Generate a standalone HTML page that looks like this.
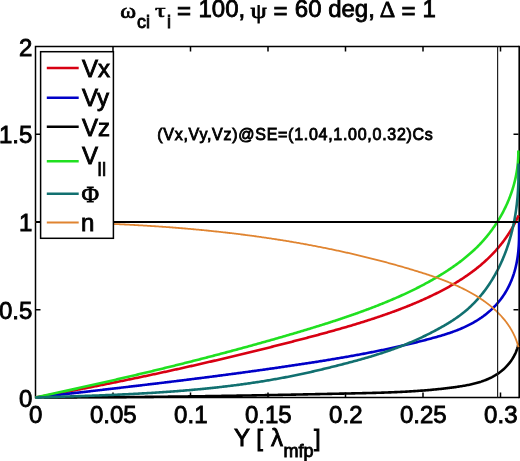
<!DOCTYPE html>
<html><head><meta charset="utf-8"><title>plot</title><style>
html,body{margin:0;padding:0;background:#fff;width:520px;height:461px;overflow:hidden;}
svg{display:block;}
text{font-family:"Liberation Sans",Arial,Helvetica,sans-serif;font-size:24px;fill:#000;stroke:#000;stroke-width:0.85px;}
.g{font-family:"Liberation Serif","DejaVu Serif",serif;}
.gs{font-family:"Liberation Sans","DejaVu Sans",sans-serif;}
.sub{font-size:18px;}
.ann{font-size:16px;letter-spacing:0.72px;}
</style></head><body>
<svg width="520" height="461" viewBox="0 0 520 461">
<rect x="0" y="0" width="520" height="461" fill="#fff"/>
<g stroke="#000" stroke-width="1.5" fill="none">
<path d="M519,397.5H35.5V46.5H519"/><path d="M519.2,45.75V398.25" stroke-width="1.6"/>
<path d="M113.0,397.5V392.5M113.0,46.5V51.5"/>
<path d="M190.5,397.5V392.5M190.5,46.5V51.5"/>
<path d="M268.0,397.5V392.5M268.0,46.5V51.5"/>
<path d="M345.5,397.5V392.5M345.5,46.5V51.5"/>
<path d="M423.0,397.5V392.5M423.0,46.5V51.5"/>
<path d="M500.5,397.5V392.5M500.5,46.5V51.5"/>
<path d="M35.5,309.75H40.5M518.5,309.75H513.5"/>
<path d="M35.5,222.00H40.5M518.5,222.00H513.5"/>
<path d="M35.5,134.25H40.5M518.5,134.25H513.5"/>
</g>
<g fill="none" stroke-linejoin="round" stroke-linecap="butt">
<path d="M35.50,397.50 36.55,397.31 37.59,397.13 38.64,396.94 39.69,396.75 40.73,396.56 41.78,396.37 42.83,396.18 43.87,395.99 44.92,395.81 45.96,395.62 47.01,395.43 48.06,395.23 49.10,395.04 50.15,394.85 51.19,394.66 52.24,394.47 53.29,394.28 54.33,394.08 55.38,393.89 56.42,393.70 57.47,393.51 58.51,393.31 59.56,393.12 60.61,392.92 61.65,392.73 62.70,392.53 63.74,392.34 64.79,392.14 65.83,391.95 66.88,391.75 67.92,391.55 68.97,391.36 70.01,391.16 71.06,390.96 72.10,390.76 73.15,390.57 74.19,390.37 75.24,390.17 76.28,389.97 77.33,389.77 78.37,389.57 79.42,389.37 80.46,389.17 81.51,388.97 82.55,388.77 83.59,388.57 84.64,388.36 85.68,388.16 86.73,387.96 87.77,387.76 88.82,387.55 89.86,387.35 90.90,387.15 91.95,386.94 92.99,386.74 94.04,386.53 95.08,386.33 96.12,386.12 97.17,385.92 98.21,385.71 99.25,385.51 100.30,385.30 101.34,385.09 102.39,384.89 103.43,384.68 104.47,384.47 105.52,384.26 106.56,384.05 107.60,383.84 108.65,383.64 109.69,383.43 110.73,383.22 111.77,383.01 112.82,382.80 113.86,382.59 114.90,382.37 115.95,382.16 116.99,381.95 118.03,381.74 119.07,381.53 120.12,381.32 121.16,381.10 122.20,380.89 123.24,380.68 124.29,380.46 125.33,380.25 126.37,380.03 127.41,379.82 128.45,379.60 129.50,379.39 130.54,379.17 131.58,378.96 132.62,378.74 133.66,378.52 134.71,378.31 135.75,378.09 136.79,377.87 137.83,377.65 138.87,377.43 139.91,377.22 140.95,377.00 142.00,376.78 143.04,376.56 144.08,376.34 145.12,376.12 146.16,375.90 147.20,375.68 148.24,375.46 149.28,375.23 150.32,375.01 151.36,374.79 152.40,374.57 153.44,374.34 154.49,374.12 155.53,373.90 156.57,373.67 157.61,373.45 158.65,373.23 159.69,373.00 160.73,372.78 161.77,372.55 162.81,372.33 163.85,372.10 164.89,371.87 165.93,371.65 166.97,371.42 168.01,371.19 169.04,370.97 170.08,370.74 171.12,370.51 172.16,370.28 173.20,370.05 174.24,369.82 175.28,369.59 176.32,369.36 177.36,369.13 178.40,368.90 179.44,368.67 180.48,368.44 181.51,368.21 182.55,367.98 183.59,367.75 184.63,367.52 185.67,367.28 186.71,367.05 187.74,366.82 188.78,366.58 189.82,366.35 190.86,366.12 191.90,365.88 192.94,365.65 193.97,365.41 195.01,365.18 196.05,364.94 197.09,364.70 198.12,364.47 199.16,364.23 200.20,363.99 201.24,363.76 202.27,363.52 203.31,363.28 204.35,363.04 205.39,362.80 206.42,362.56 207.46,362.33 208.50,362.09 209.53,361.85 210.57,361.61 211.61,361.37 212.64,361.12 213.68,360.88 214.72,360.64 215.75,360.40 216.79,360.16 217.82,359.92 218.86,359.67 219.90,359.43 220.93,359.19 221.97,358.94 223.00,358.70 224.04,358.46 225.07,358.21 226.11,357.97 227.15,357.72 228.18,357.48 229.22,357.23 230.25,356.98 231.29,356.74 232.32,356.49 233.36,356.24 234.39,356.00 235.43,355.75 236.46,355.50 237.50,355.25 238.53,355.00 239.57,354.75 240.60,354.50 241.63,354.25 242.67,354.00 243.70,353.75 244.74,353.50 245.77,353.25 246.80,353.00 247.84,352.75 248.87,352.50 249.91,352.25 250.94,351.99 251.97,351.74 253.01,351.49 254.04,351.23 255.07,350.98 256.11,350.73 257.14,350.47 258.17,350.22 259.21,349.96 260.24,349.71 261.27,349.45 262.30,349.20 263.34,348.94 264.37,348.68 265.40,348.43 266.43,348.17 267.47,347.91 268.50,347.65 269.53,347.40 270.56,347.14 271.59,346.88 272.63,346.62 273.66,346.36 274.69,346.10 275.72,345.84 276.75,345.58 277.78,345.32 278.81,345.06 279.85,344.80 280.88,344.54 281.91,344.27 282.94,344.01 283.97,343.75 285.00,343.49 286.03,343.22 287.06,342.96 288.09,342.70 289.12,342.43 290.15,342.17 291.18,341.90 292.21,341.64 293.24,341.37 294.27,341.11 295.30,340.84 296.33,340.57 297.36,340.31 298.39,340.04 299.42,339.77 300.45,339.51 301.48,339.24 302.51,338.97 303.54,338.70 304.57,338.43 305.60,338.16 306.63,337.89 307.65,337.62 308.68,337.35 309.71,337.08 310.74,336.81 311.77,336.54 312.80,336.26 313.82,335.99 314.85,335.72 315.88,335.44 316.91,335.17 317.93,334.89 318.96,334.62 319.99,334.34 321.01,334.06 322.04,333.79 323.07,333.51 324.09,333.23 325.12,332.95 326.14,332.67 327.17,332.39 328.19,332.11 329.22,331.82 330.24,331.54 331.27,331.26 332.29,330.97 333.31,330.68 334.34,330.40 335.36,330.11 336.38,329.82 337.41,329.53 338.43,329.24 339.45,328.95 340.47,328.66 341.49,328.37 342.52,328.07 343.54,327.78 344.56,327.48 345.58,327.18 346.60,326.89 347.62,326.59 348.64,326.29 349.65,325.99 350.67,325.68 351.69,325.38 352.71,325.08 353.73,324.77 354.74,324.46 355.76,324.15 356.78,323.84 357.79,323.53 358.81,323.22 359.82,322.91 360.84,322.60 361.85,322.28 362.87,321.96 363.88,321.64 364.89,321.33 365.91,321.00 366.92,320.68 367.93,320.36 368.94,320.03 369.95,319.71 370.96,319.38 371.97,319.05 372.98,318.72 373.99,318.39 375.00,318.05 376.01,317.72 377.02,317.38 378.03,317.04 379.03,316.70 380.04,316.36 381.04,316.02 382.05,315.68 383.05,315.33 384.06,314.98 385.06,314.63 386.07,314.28 387.07,313.93 388.07,313.57 389.07,313.22 390.07,312.86 391.07,312.50 392.07,312.14 393.07,311.77 394.07,311.41 395.07,311.04 396.06,310.67 397.06,310.30 398.06,309.93 399.05,309.55 400.05,309.17 401.04,308.80 402.03,308.41 403.02,308.03 404.02,307.64 405.01,307.26 405.99,306.87 406.98,306.47 407.97,306.08 408.96,305.68 409.94,305.28 410.93,304.88 411.91,304.47 412.90,304.07 413.88,303.66 414.86,303.25 415.84,302.83 416.82,302.41 417.80,302.00 418.78,301.57 419.75,301.15 420.73,300.72 421.70,300.29 422.68,299.86 423.65,299.42 424.62,298.98 425.59,298.54 426.56,298.10 427.52,297.65 428.49,297.20 429.46,296.75 430.42,296.29 431.38,295.84 432.34,295.37 433.30,294.91 434.26,294.44 435.22,293.97 436.18,293.50 437.13,293.02 438.09,292.54 439.04,292.06 439.99,291.57 440.94,291.08 441.88,290.59 442.83,290.09 443.77,289.59 444.71,289.08 445.65,288.58 446.58,288.07 447.52,287.55 448.45,287.03 449.38,286.51 450.31,285.99 451.23,285.46 452.16,284.92 453.08,284.39 454.00,283.84 454.91,283.30 455.82,282.75 456.73,282.20 457.64,281.64 458.54,281.08 459.44,280.52 460.34,279.95 461.24,279.37 462.13,278.80 463.02,278.21 463.90,277.63 464.79,277.04 465.67,276.44 466.54,275.85 467.41,275.24 468.28,274.63 469.15,274.02 470.01,273.41 470.87,272.78 471.72,272.16 472.57,271.53 473.42,270.89 474.26,270.25 475.10,269.61 475.93,268.96 476.76,268.30 477.59,267.64 478.41,266.98 479.23,266.31 480.04,265.64 480.85,264.96 481.66,264.27 482.46,263.58 483.25,262.89 484.04,262.19 484.83,261.48 485.61,260.77 486.39,260.06 487.16,259.34 487.92,258.61 488.69,257.88 489.44,257.14 490.19,256.40 490.94,255.65 491.68,254.90 492.42,254.14 493.15,253.37 493.87,252.60 494.59,251.83 495.31,251.05 496.01,250.26 496.72,249.47 497.41,248.67 498.10,247.87 498.79,247.07 499.47,246.25 500.14,245.43 500.81,244.61 501.47,243.78 502.12,242.95 502.77,242.11 503.41,241.26 504.05,240.41 504.67,239.56 505.30,238.70 505.91,237.83 506.52,236.96 507.12,236.08 507.72,235.20 508.30,234.32 508.88,233.42 509.46,232.53 510.03,231.63 510.58,230.72 511.14,229.81 511.68,228.89 512.22,227.96 512.75,227.04 513.27,226.10 513.79,225.16 514.29,224.22 514.79,223.27 515.28,222.32 515.77,221.36 516.24,220.40 516.71,219.43 517.17,218.45 517.62,217.47 518.07,216.49 518.50,215.50" stroke="#d80012" stroke-width="2.6"/>
<path d="M35.50,397.50 36.62,397.37 37.74,397.24 38.86,397.11 39.98,396.99 41.10,396.86 42.22,396.73 43.34,396.60 44.46,396.47 45.58,396.34 46.70,396.22 47.82,396.09 48.94,395.96 50.06,395.83 51.18,395.70 52.30,395.57 53.42,395.45 54.54,395.32 55.66,395.19 56.78,395.06 57.90,394.93 59.02,394.81 60.14,394.68 61.26,394.55 62.38,394.42 63.50,394.29 64.62,394.16 65.74,394.04 66.86,393.91 67.98,393.78 69.10,393.65 70.22,393.52 71.34,393.40 72.46,393.27 73.58,393.14 74.70,393.01 75.82,392.88 76.94,392.75 78.07,392.63 79.19,392.50 80.31,392.37 81.43,392.24 82.55,392.11 83.67,391.98 84.79,391.85 85.91,391.73 87.03,391.60 88.15,391.47 89.27,391.34 90.39,391.21 91.51,391.08 92.64,390.95 93.76,390.83 94.88,390.70 96.00,390.57 97.12,390.44 98.24,390.31 99.36,390.18 100.48,390.05 101.60,389.92 102.72,389.79 103.84,389.66 104.97,389.53 106.09,389.40 107.21,389.27 108.33,389.14 109.45,389.01 110.57,388.88 111.69,388.76 112.81,388.63 113.93,388.50 115.06,388.36 116.18,388.23 117.30,388.10 118.42,387.97 119.54,387.84 120.66,387.71 121.78,387.58 122.90,387.45 124.02,387.32 125.14,387.19 126.27,387.06 127.39,386.93 128.51,386.80 129.63,386.66 130.75,386.53 131.87,386.40 132.99,386.27 134.11,386.14 135.23,386.01 136.36,385.87 137.48,385.74 138.60,385.61 139.72,385.48 140.84,385.34 141.96,385.21 143.08,385.08 144.20,384.95 145.32,384.81 146.44,384.68 147.57,384.55 148.69,384.41 149.81,384.28 150.93,384.15 152.05,384.01 153.17,383.88 154.29,383.74 155.41,383.61 156.53,383.48 157.65,383.34 158.77,383.21 159.89,383.07 161.02,382.94 162.14,382.80 163.26,382.67 164.38,382.53 165.50,382.39 166.62,382.26 167.74,382.12 168.86,381.99 169.98,381.85 171.10,381.71 172.22,381.58 173.34,381.44 174.46,381.30 175.58,381.17 176.70,381.03 177.82,380.89 178.95,380.75 180.07,380.61 181.19,380.48 182.31,380.34 183.43,380.20 184.55,380.06 185.67,379.92 186.79,379.78 187.91,379.64 189.03,379.50 190.15,379.36 191.27,379.22 192.39,379.08 193.51,378.94 194.63,378.80 195.75,378.66 196.87,378.52 197.99,378.38 199.11,378.24 200.23,378.10 201.35,377.96 202.47,377.81 203.59,377.67 204.71,377.53 205.83,377.39 206.95,377.24 208.07,377.10 209.19,376.96 210.31,376.81 211.42,376.67 212.54,376.52 213.66,376.38 214.78,376.24 215.90,376.09 217.02,375.95 218.14,375.80 219.26,375.65 220.38,375.51 221.50,375.36 222.62,375.22 223.74,375.07 224.85,374.92 225.97,374.78 227.09,374.63 228.21,374.48 229.33,374.33 230.45,374.18 231.57,374.04 232.69,373.89 233.80,373.74 234.92,373.59 236.04,373.44 237.16,373.29 238.28,373.14 239.40,372.99 240.52,372.84 241.63,372.69 242.75,372.54 243.87,372.39 244.99,372.23 246.11,372.08 247.22,371.93 248.34,371.78 249.46,371.62 250.58,371.47 251.69,371.32 252.81,371.16 253.93,371.01 255.05,370.85 256.16,370.70 257.28,370.55 258.40,370.39 259.52,370.23 260.63,370.08 261.75,369.92 262.87,369.77 263.99,369.61 265.10,369.45 266.22,369.29 267.34,369.14 268.45,368.98 269.57,368.82 270.69,368.66 271.80,368.50 272.92,368.34 274.04,368.18 275.15,368.02 276.27,367.86 277.38,367.70 278.50,367.54 279.62,367.38 280.73,367.22 281.85,367.05 282.96,366.89 284.08,366.73 285.20,366.56 286.31,366.40 287.43,366.24 288.54,366.07 289.66,365.91 290.77,365.74 291.89,365.58 293.00,365.41 294.12,365.24 295.23,365.08 296.35,364.91 297.46,364.74 298.58,364.58 299.69,364.41 300.81,364.24 301.92,364.07 303.04,363.90 304.15,363.73 305.26,363.56 306.38,363.39 307.49,363.22 308.61,363.05 309.72,362.88 310.83,362.71 311.95,362.53 313.06,362.36 314.17,362.19 315.29,362.01 316.40,361.84 317.51,361.66 318.63,361.49 319.74,361.31 320.85,361.13 321.97,360.95 323.08,360.78 324.19,360.60 325.30,360.42 326.42,360.24 327.53,360.06 328.64,359.87 329.75,359.69 330.86,359.51 331.98,359.33 333.09,359.14 334.20,358.96 335.31,358.77 336.42,358.58 337.53,358.40 338.64,358.21 339.75,358.02 340.86,357.83 341.97,357.64 343.09,357.45 344.20,357.25 345.31,357.06 346.42,356.87 347.52,356.67 348.63,356.48 349.74,356.28 350.85,356.08 351.96,355.89 353.07,355.69 354.18,355.49 355.29,355.28 356.40,355.08 357.51,354.88 358.61,354.67 359.72,354.47 360.83,354.26 361.94,354.06 363.05,353.85 364.15,353.64 365.26,353.43 366.37,353.22 367.47,353.00 368.58,352.79 369.69,352.58 370.79,352.36 371.90,352.14 373.01,351.93 374.11,351.71 375.22,351.49 376.32,351.26 377.43,351.04 378.53,350.82 379.64,350.59 380.74,350.37 381.85,350.14 382.95,349.91 384.06,349.68 385.16,349.45 386.26,349.21 387.37,348.98 388.47,348.75 389.57,348.51 390.68,348.27 391.78,348.03 392.88,347.79 393.98,347.55 395.08,347.31 396.19,347.06 397.29,346.81 398.39,346.57 399.49,346.32 400.59,346.07 401.69,345.81 402.79,345.56 403.89,345.31 404.99,345.05 406.09,344.79 407.19,344.53 408.29,344.27 409.39,344.01 410.49,343.74 411.59,343.48 412.69,343.21 413.78,342.94 414.88,342.67 415.98,342.40 417.08,342.13 418.17,341.85 419.27,341.58 420.37,341.30 421.46,341.02 422.56,340.74 423.66,340.45 424.75,340.17 425.85,339.88 426.94,339.59 428.04,339.30 429.13,339.01 430.23,338.71 431.32,338.42 432.41,338.12 433.51,337.82 434.60,337.52 435.69,337.21 436.78,336.91 437.87,336.59 438.96,336.28 440.05,335.96 441.14,335.64 442.22,335.31 443.30,334.98 444.38,334.65 445.46,334.31 446.54,333.96 447.62,333.61 448.69,333.26 449.76,332.90 450.83,332.53 451.90,332.16 452.96,331.78 454.02,331.40 455.08,331.00 456.13,330.60 457.18,330.20 458.23,329.78 459.28,329.36 460.32,328.93 461.35,328.50 462.39,328.05 463.42,327.60 464.44,327.14 465.47,326.66 466.48,326.18 467.50,325.69 468.51,325.19 469.51,324.68 470.51,324.16 471.50,323.63 472.49,323.09 473.48,322.54 474.46,321.98 475.43,321.41 476.39,320.83 477.35,320.24 478.31,319.64 479.25,319.02 480.19,318.40 481.13,317.77 482.05,317.12 482.97,316.47 483.87,315.80 484.77,315.13 485.67,314.44 486.55,313.75 487.42,313.04 488.29,312.32 489.14,311.60 489.98,310.86 490.82,310.11 491.64,309.35 492.45,308.58 493.26,307.80 494.05,307.01 494.83,306.21 495.60,305.40 496.35,304.57 497.10,303.74 497.83,302.90 498.55,302.04 499.25,301.18 499.95,300.30 500.63,299.42 501.30,298.52 501.96,297.62 502.61,296.71 503.24,295.79 503.86,294.86 504.47,293.92 505.06,292.97 505.64,292.01 506.21,291.05 506.77,290.08 507.31,289.10 507.84,288.11 508.36,287.11 508.87,286.11 509.36,285.10 509.84,284.08 510.31,283.06 510.76,282.03 511.20,280.99 511.63,279.95 512.04,278.90 512.44,277.85 512.83,276.79 513.20,275.72 513.56,274.65 513.91,273.58 514.24,272.49 514.57,271.41 514.87,270.32 515.17,269.22 515.45,268.13 515.72,267.02 515.98,265.92 516.22,264.81 516.46,263.69 516.68,262.58 516.89,261.46 517.09,260.34 517.28,259.21 517.45,258.09 517.62,256.96 517.78,255.83 517.93,254.69 518.06,253.56 518.19,252.43 518.31,251.29 518.41,250.15 518.51,249.01 518.60,247.87 518.68,246.74 518.76,245.60 518.82,244.46 518.88,243.32 518.93,242.18 518.97,241.04 519.00,239.91 519.03,238.77 519.05,237.64 519.06,236.50 519.07,235.37 519.07,234.24 519.07,233.12 519.07,231.99 519.07,230.87 519.07,229.75 519.07,228.63 519.07,227.52 519.07,226.41 519.07,225.30 519.07,224.20 519.07,223.10 519.07,222.00" stroke="#0000c8" stroke-width="2.6"/>
<path d="M35.50,397.30 36.50,397.30 37.51,397.31 38.51,397.31 39.51,397.31 40.52,397.32 41.52,397.32 42.52,397.32 43.53,397.32 44.53,397.33 45.54,397.33 46.54,397.33 47.54,397.33 48.55,397.33 49.55,397.33 50.56,397.34 51.56,397.34 52.57,397.34 53.57,397.34 54.57,397.34 55.58,397.34 56.58,397.34 57.59,397.34 58.59,397.34 59.60,397.34 60.60,397.34 61.61,397.34 62.61,397.34 63.62,397.34 64.62,397.34 65.63,397.34 66.63,397.34 67.64,397.34 68.64,397.34 69.65,397.34 70.66,397.34 71.66,397.34 72.67,397.33 73.67,397.33 74.68,397.33 75.68,397.33 76.69,397.33 77.70,397.32 78.70,397.32 79.71,397.32 80.71,397.32 81.72,397.31 82.73,397.31 83.73,397.31 84.74,397.31 85.75,397.30 86.75,397.30 87.76,397.30 88.76,397.29 89.77,397.29 90.78,397.29 91.78,397.28 92.79,397.28 93.80,397.27 94.80,397.27 95.81,397.27 96.82,397.26 97.83,397.26 98.83,397.25 99.84,397.25 100.85,397.24 101.85,397.24 102.86,397.23 103.87,397.23 104.87,397.22 105.88,397.22 106.89,397.21 107.90,397.20 108.90,397.20 109.91,397.19 110.92,397.19 111.93,397.18 112.93,397.17 113.94,397.17 114.95,397.16 115.96,397.15 116.96,397.15 117.97,397.14 118.98,397.13 119.99,397.13 121.00,397.12 122.00,397.11 123.01,397.11 124.02,397.10 125.03,397.09 126.04,397.08 127.04,397.07 128.05,397.07 129.06,397.06 130.07,397.05 131.08,397.04 132.08,397.03 133.09,397.03 134.10,397.02 135.11,397.01 136.12,397.00 137.13,396.99 138.13,396.98 139.14,396.97 140.15,396.96 141.16,396.95 142.17,396.95 143.18,396.94 144.19,396.93 145.19,396.92 146.20,396.91 147.21,396.90 148.22,396.89 149.23,396.88 150.24,396.87 151.25,396.86 152.25,396.85 153.26,396.84 154.27,396.82 155.28,396.81 156.29,396.80 157.30,396.79 158.31,396.78 159.32,396.77 160.32,396.76 161.33,396.75 162.34,396.74 163.35,396.73 164.36,396.71 165.37,396.70 166.38,396.69 167.39,396.68 168.40,396.67 169.40,396.66 170.41,396.64 171.42,396.63 172.43,396.62 173.44,396.61 174.45,396.59 175.46,396.58 176.47,396.57 177.48,396.56 178.49,396.54 179.49,396.53 180.50,396.52 181.51,396.51 182.52,396.49 183.53,396.48 184.54,396.47 185.55,396.45 186.56,396.44 187.57,396.43 188.58,396.41 189.58,396.40 190.59,396.38 191.60,396.37 192.61,396.36 193.62,396.34 194.63,396.33 195.64,396.31 196.65,396.30 197.66,396.29 198.67,396.27 199.68,396.26 200.68,396.24 201.69,396.23 202.70,396.21 203.71,396.20 204.72,396.18 205.73,396.17 206.74,396.15 207.75,396.14 208.76,396.12 209.77,396.11 210.78,396.09 211.78,396.08 212.79,396.06 213.80,396.05 214.81,396.03 215.82,396.02 216.83,396.00 217.84,395.98 218.85,395.97 219.86,395.95 220.86,395.94 221.87,395.92 222.88,395.90 223.89,395.89 224.90,395.87 225.91,395.86 226.92,395.84 227.93,395.82 228.94,395.81 229.94,395.79 230.95,395.77 231.96,395.76 232.97,395.74 233.98,395.72 234.99,395.71 236.00,395.69 237.00,395.67 238.01,395.65 239.02,395.64 240.03,395.62 241.04,395.60 242.05,395.58 243.06,395.57 244.06,395.55 245.07,395.53 246.08,395.51 247.09,395.50 248.10,395.48 249.11,395.46 250.11,395.44 251.12,395.43 252.13,395.41 253.14,395.39 254.15,395.37 255.16,395.35 256.16,395.33 257.17,395.32 258.18,395.30 259.19,395.28 260.20,395.26 261.20,395.24 262.21,395.22 263.22,395.21 264.23,395.19 265.24,395.17 266.24,395.15 267.25,395.13 268.26,395.11 269.27,395.09 270.27,395.07 271.28,395.06 272.29,395.04 273.30,395.02 274.31,395.00 275.31,394.98 276.32,394.96 277.33,394.94 278.34,394.92 279.34,394.90 280.35,394.88 281.36,394.86 282.36,394.84 283.37,394.82 284.38,394.80 285.39,394.78 286.39,394.76 287.40,394.74 288.41,394.72 289.41,394.70 290.42,394.68 291.43,394.66 292.43,394.64 293.44,394.62 294.45,394.60 295.45,394.58 296.46,394.56 297.47,394.54 298.47,394.52 299.48,394.50 300.49,394.48 301.49,394.46 302.50,394.44 303.50,394.42 304.51,394.40 305.52,394.38 306.52,394.36 307.53,394.34 308.54,394.32 309.54,394.30 310.55,394.28 311.55,394.26 312.56,394.24 313.56,394.22 314.57,394.20 315.58,394.17 316.58,394.15 317.59,394.13 318.59,394.11 319.60,394.09 320.60,394.07 321.61,394.05 322.61,394.03 323.62,394.01 324.62,393.99 325.63,393.96 326.63,393.94 327.64,393.92 328.64,393.90 329.65,393.88 330.65,393.86 331.66,393.84 332.66,393.82 333.66,393.79 334.67,393.77 335.67,393.75 336.68,393.73 337.68,393.71 338.69,393.69 339.69,393.67 340.69,393.64 341.70,393.62 342.70,393.60 343.70,393.58 344.71,393.56 345.71,393.54 346.72,393.51 347.72,393.49 348.72,393.47 349.73,393.45 350.73,393.43 351.73,393.41 352.73,393.38 353.74,393.36 354.74,393.34 355.74,393.32 356.75,393.30 357.75,393.27 358.75,393.25 359.75,393.23 360.76,393.21 361.76,393.18 362.76,393.16 363.76,393.14 364.77,393.11 365.77,393.09 366.77,393.07 367.77,393.04 368.78,393.02 369.78,392.99 370.78,392.96 371.78,392.94 372.79,392.91 373.79,392.88 374.79,392.86 375.79,392.83 376.80,392.80 377.80,392.77 378.80,392.74 379.80,392.71 380.81,392.68 381.81,392.65 382.81,392.62 383.81,392.58 384.82,392.55 385.82,392.51 386.82,392.48 387.83,392.44 388.83,392.41 389.83,392.37 390.84,392.33 391.84,392.29 392.84,392.25 393.85,392.21 394.85,392.17 395.85,392.12 396.86,392.08 397.86,392.03 398.86,391.99 399.87,391.94 400.87,391.89 401.88,391.84 402.88,391.79 403.89,391.74 404.89,391.69 405.90,391.63 406.90,391.58 407.91,391.52 408.91,391.47 409.92,391.41 410.92,391.35 411.93,391.29 412.94,391.22 413.94,391.16 414.95,391.09 415.95,391.03 416.96,390.96 417.97,390.89 418.98,390.82 419.98,390.74 420.99,390.67 422.00,390.59 423.01,390.52 424.02,390.44 425.02,390.36 426.03,390.28 427.04,390.19 428.05,390.11 429.06,390.02 430.07,389.93 431.08,389.84 432.09,389.75 433.10,389.65 434.11,389.56 435.12,389.46 436.13,389.36 437.14,389.26 438.16,389.16 439.17,389.05 440.18,388.94 441.19,388.84 442.21,388.72 443.22,388.61 444.23,388.50 445.25,388.38 446.26,388.26 447.28,388.14 448.29,388.02 449.31,387.89 450.32,387.76 451.34,387.63 452.35,387.50 453.37,387.37 454.39,387.23 455.40,387.09 456.42,386.95 457.43,386.80 458.45,386.65 459.46,386.50 460.48,386.34 461.49,386.18 462.50,386.01 463.51,385.84 464.51,385.67 465.52,385.48 466.52,385.30 467.52,385.10 468.52,384.90 469.52,384.70 470.51,384.48 471.50,384.26 472.48,384.04 473.46,383.80 474.44,383.56 475.42,383.31 476.39,383.05 477.35,382.78 478.31,382.50 479.27,382.22 480.22,381.92 481.17,381.62 482.11,381.30 483.04,380.98 483.97,380.64 484.90,380.30 485.82,379.94 486.73,379.57 487.63,379.19 488.53,378.80 489.43,378.39 490.31,377.98 491.19,377.55 492.06,377.11 492.92,376.65 493.78,376.19 494.62,375.70 495.46,375.21 496.29,374.70 497.12,374.18 497.93,373.64 498.73,373.08 499.53,372.51 500.31,371.93 501.09,371.33 501.86,370.71 502.61,370.08 503.36,369.43 504.10,368.77 504.82,368.09 505.53,367.39 506.23,366.68 506.92,365.95 507.59,365.21 508.25,364.46 508.90,363.69 509.53,362.90 510.15,362.10 510.75,361.29 511.33,360.46 511.90,359.62 512.45,358.77 512.98,357.90 513.50,357.03 513.99,356.13 514.47,355.23 514.92,354.31 515.36,353.39 515.78,352.45 516.17,351.50 516.54,350.53 516.89,349.56 517.22,348.58 517.52,347.58 517.81,346.58 518.06,345.56 518.29,344.53 518.50,343.50" stroke="#000" stroke-width="2.6"/>
<path d="M35.50,397.50 36.63,397.26 37.77,397.01 38.90,396.77 40.03,396.53 41.16,396.28 42.30,396.04 43.43,395.79 44.56,395.55 45.69,395.30 46.83,395.06 47.96,394.81 49.09,394.57 50.22,394.32 51.36,394.08 52.49,393.83 53.62,393.58 54.76,393.34 55.89,393.09 57.02,392.84 58.15,392.60 59.28,392.35 60.42,392.10 61.55,391.85 62.68,391.60 63.81,391.36 64.95,391.11 66.08,390.86 67.21,390.61 68.34,390.36 69.47,390.11 70.61,389.86 71.74,389.61 72.87,389.36 74.00,389.11 75.13,388.86 76.27,388.61 77.40,388.36 78.53,388.10 79.66,387.85 80.79,387.60 81.93,387.35 83.06,387.10 84.19,386.84 85.32,386.59 86.45,386.34 87.58,386.08 88.71,385.83 89.85,385.57 90.98,385.32 92.11,385.07 93.24,384.81 94.37,384.56 95.50,384.30 96.63,384.04 97.76,383.79 98.90,383.53 100.03,383.27 101.16,383.02 102.29,382.76 103.42,382.50 104.55,382.24 105.68,381.99 106.81,381.73 107.94,381.47 109.07,381.21 110.20,380.95 111.33,380.69 112.46,380.43 113.59,380.17 114.72,379.91 115.85,379.65 116.98,379.39 118.11,379.13 119.24,378.87 120.37,378.60 121.50,378.34 122.63,378.08 123.76,377.82 124.89,377.55 126.02,377.29 127.15,377.03 128.28,376.76 129.41,376.50 130.54,376.23 131.67,375.97 132.80,375.70 133.93,375.44 135.06,375.17 136.18,374.90 137.31,374.64 138.44,374.37 139.57,374.10 140.70,373.83 141.83,373.57 142.96,373.30 144.09,373.03 145.21,372.76 146.34,372.49 147.47,372.22 148.60,371.95 149.73,371.68 150.85,371.41 151.98,371.14 153.11,370.87 154.24,370.59 155.36,370.32 156.49,370.05 157.62,369.78 158.75,369.50 159.87,369.23 161.00,368.95 162.13,368.68 163.26,368.40 164.38,368.13 165.51,367.85 166.64,367.58 167.76,367.30 168.89,367.02 170.01,366.75 171.14,366.47 172.27,366.19 173.39,365.91 174.52,365.64 175.65,365.36 176.77,365.08 177.90,364.80 179.02,364.52 180.15,364.24 181.27,363.96 182.40,363.67 183.52,363.39 184.65,363.11 185.77,362.83 186.90,362.54 188.02,362.26 189.15,361.98 190.27,361.69 191.40,361.41 192.52,361.12 193.65,360.84 194.77,360.55 195.89,360.27 197.02,359.98 198.14,359.69 199.27,359.41 200.39,359.12 201.51,358.83 202.64,358.54 203.76,358.25 204.88,357.96 206.01,357.67 207.13,357.38 208.25,357.09 209.37,356.80 210.50,356.51 211.62,356.22 212.74,355.92 213.86,355.63 214.99,355.34 216.11,355.04 217.23,354.75 218.35,354.46 219.47,354.16 220.59,353.86 221.72,353.57 222.84,353.27 223.96,352.98 225.08,352.68 226.20,352.38 227.32,352.08 228.44,351.78 229.56,351.48 230.68,351.18 231.80,350.88 232.92,350.58 234.04,350.28 235.16,349.98 236.28,349.68 237.40,349.38 238.52,349.07 239.64,348.77 240.76,348.47 241.88,348.16 243.00,347.86 244.12,347.55 245.23,347.25 246.35,346.94 247.47,346.63 248.59,346.33 249.71,346.02 250.83,345.71 251.94,345.40 253.06,345.09 254.18,344.78 255.30,344.47 256.41,344.16 257.53,343.85 258.65,343.54 259.76,343.23 260.88,342.92 262.00,342.60 263.11,342.29 264.23,341.97 265.34,341.66 266.46,341.35 267.58,341.03 268.69,340.71 269.81,340.40 270.92,340.08 272.04,339.76 273.15,339.44 274.27,339.13 275.38,338.81 276.49,338.49 277.61,338.17 278.72,337.85 279.84,337.52 280.95,337.20 282.06,336.88 283.18,336.56 284.29,336.23 285.40,335.91 286.52,335.59 287.63,335.26 288.74,334.93 289.85,334.61 290.97,334.28 292.08,333.95 293.19,333.63 294.30,333.30 295.41,332.97 296.53,332.64 297.64,332.31 298.75,331.98 299.86,331.65 300.97,331.32 302.08,330.99 303.19,330.65 304.30,330.32 305.41,329.99 306.52,329.65 307.63,329.32 308.74,328.98 309.85,328.64 310.96,328.31 312.07,327.97 313.17,327.63 314.28,327.29 315.39,326.95 316.50,326.61 317.60,326.26 318.71,325.92 319.82,325.58 320.92,325.23 322.03,324.88 323.14,324.54 324.24,324.19 325.35,323.84 326.45,323.49 327.56,323.14 328.66,322.79 329.76,322.43 330.87,322.08 331.97,321.72 333.07,321.36 334.17,321.01 335.27,320.65 336.38,320.29 337.48,319.92 338.58,319.56 339.68,319.20 340.78,318.83 341.87,318.46 342.97,318.09 344.07,317.72 345.17,317.35 346.27,316.98 347.36,316.60 348.46,316.23 349.55,315.85 350.65,315.47 351.74,315.09 352.84,314.71 353.93,314.33 355.02,313.94 356.11,313.55 357.21,313.17 358.30,312.77 359.39,312.38 360.48,311.99 361.57,311.59 362.66,311.20 363.74,310.80 364.83,310.40 365.92,309.99 367.01,309.59 368.09,309.18 369.18,308.77 370.26,308.36 371.34,307.95 372.43,307.54 373.51,307.12 374.59,306.70 375.67,306.28 376.75,305.86 377.83,305.44 378.91,305.01 379.99,304.58 381.07,304.15 382.14,303.72 383.22,303.28 384.29,302.85 385.37,302.41 386.44,301.96 387.51,301.52 388.59,301.07 389.66,300.62 390.73,300.17 391.80,299.72 392.86,299.26 393.93,298.81 395.00,298.34 396.06,297.88 397.13,297.42 398.19,296.95 399.25,296.48 400.31,296.00 401.37,295.52 402.43,295.04 403.49,294.56 404.54,294.08 405.59,293.59 406.65,293.10 407.70,292.60 408.75,292.11 409.80,291.61 410.84,291.11 411.89,290.60 412.93,290.09 413.98,289.58 415.02,289.06 416.05,288.55 417.09,288.02 418.13,287.50 419.16,286.97 420.19,286.44 421.22,285.91 422.25,285.37 423.28,284.83 424.30,284.28 425.32,283.73 426.34,283.18 427.36,282.63 428.38,282.07 429.39,281.51 430.41,280.94 431.42,280.37 432.42,279.80 433.43,279.22 434.43,278.64 435.44,278.05 436.43,277.47 437.43,276.87 438.42,276.28 439.42,275.68 440.41,275.07 441.39,274.46 442.38,273.85 443.36,273.24 444.34,272.62 445.32,271.99 446.29,271.36 447.26,270.73 448.23,270.09 449.20,269.45 450.16,268.81 451.12,268.15 452.08,267.50 453.03,266.84 453.98,266.18 454.93,265.51 455.87,264.84 456.81,264.16 457.75,263.47 458.68,262.79 459.61,262.09 460.53,261.39 461.45,260.69 462.37,259.98 463.28,259.27 464.18,258.55 465.08,257.82 465.98,257.09 466.87,256.35 467.76,255.61 468.64,254.86 469.52,254.11 470.39,253.35 471.25,252.58 472.11,251.81 472.96,251.04 473.81,250.25 474.65,249.46 475.49,248.66 476.32,247.86 477.14,247.05 477.96,246.23 478.77,245.41 479.57,244.58 480.37,243.74 481.16,242.90 481.94,242.05 482.72,241.20 483.49,240.33 484.25,239.46 485.01,238.59 485.75,237.71 486.50,236.82 487.23,235.92 487.96,235.02 488.68,234.12 489.39,233.20 490.09,232.29 490.79,231.36 491.48,230.43 492.17,229.50 492.84,228.55 493.51,227.61 494.17,226.66 494.82,225.70 495.47,224.74 496.11,223.77 496.74,222.79 497.36,221.82 497.98,220.83 498.58,219.84 499.18,218.85 499.78,217.85 500.36,216.85 500.93,215.84 501.50,214.83 502.06,213.81 502.61,212.79 503.16,211.77 503.69,210.74 504.22,209.70 504.73,208.66 505.24,207.62 505.74,206.57 506.23,205.52 506.72,204.47 507.19,203.41 507.66,202.35 508.11,201.28 508.56,200.21 509.00,199.14 509.43,198.06 509.85,196.98 510.26,195.89 510.66,194.81 511.05,193.72 511.43,192.62 511.81,191.52 512.17,190.42 512.52,189.32 512.87,188.21 513.20,187.11 513.52,185.99 513.84,184.88 514.14,183.76 514.43,182.64 514.72,181.52 514.99,180.39 515.26,179.27 515.51,178.14 515.75,177.01 515.98,175.87 516.20,174.74 516.41,173.60 516.61,172.46 516.80,171.31 516.98,170.17 517.15,169.02 517.31,167.88 517.45,166.73 517.59,165.58 517.71,164.42 517.82,163.27 517.92,162.11 518.01,160.96 518.09,159.80 518.16,158.64 518.21,157.48 518.26,156.32 518.29,155.16 518.31,153.99 518.32,152.83 518.32,151.67 518.32,150.50" stroke="#20e020" stroke-width="2.6"/>
<path d="M35.50,397.50 36.71,397.46 37.93,397.42 39.14,397.39 40.35,397.35 41.57,397.31 42.78,397.28 44.00,397.24 45.21,397.20 46.43,397.16 47.64,397.13 48.85,397.09 50.07,397.05 51.28,397.02 52.50,396.98 53.71,396.94 54.93,396.90 56.14,396.87 57.36,396.83 58.57,396.79 59.79,396.75 61.00,396.72 62.22,396.68 63.43,396.64 64.65,396.60 65.86,396.56 67.08,396.52 68.29,396.49 69.51,396.45 70.72,396.41 71.94,396.37 73.15,396.33 74.37,396.29 75.58,396.25 76.80,396.21 78.02,396.17 79.23,396.13 80.45,396.09 81.66,396.05 82.88,396.00 84.09,395.96 85.31,395.92 86.53,395.88 87.74,395.84 88.96,395.79 90.17,395.75 91.39,395.71 92.60,395.66 93.82,395.62 95.04,395.57 96.25,395.53 97.47,395.48 98.68,395.44 99.90,395.39 101.11,395.34 102.33,395.29 103.55,395.25 104.76,395.20 105.98,395.15 107.19,395.10 108.41,395.05 109.63,395.00 110.84,394.95 112.06,394.90 113.27,394.85 114.49,394.80 115.70,394.74 116.92,394.69 118.13,394.64 119.35,394.58 120.57,394.53 121.78,394.47 123.00,394.41 124.21,394.36 125.43,394.30 126.64,394.24 127.86,394.18 129.07,394.12 130.29,394.06 131.50,394.00 132.72,393.94 133.93,393.88 135.15,393.81 136.36,393.75 137.58,393.69 138.79,393.62 140.01,393.56 141.22,393.49 142.44,393.42 143.65,393.35 144.87,393.28 146.08,393.21 147.30,393.14 148.51,393.07 149.73,393.00 150.94,392.93 152.15,392.85 153.37,392.78 154.58,392.70 155.80,392.63 157.01,392.55 158.22,392.47 159.44,392.39 160.65,392.31 161.87,392.23 163.08,392.15 164.29,392.07 165.51,391.98 166.72,391.90 167.93,391.81 169.14,391.73 170.36,391.64 171.57,391.55 172.78,391.46 174.00,391.37 175.21,391.28 176.42,391.19 177.63,391.09 178.84,391.00 180.06,390.90 181.27,390.80 182.48,390.71 183.69,390.61 184.90,390.51 186.11,390.41 187.33,390.30 188.54,390.20 189.75,390.10 190.96,389.99 192.17,389.88 193.38,389.77 194.59,389.66 195.80,389.55 197.01,389.44 198.22,389.33 199.43,389.22 200.64,389.10 201.85,388.98 203.06,388.86 204.27,388.75 205.48,388.63 206.69,388.50 207.90,388.38 209.11,388.26 210.32,388.13 211.52,388.00 212.73,387.87 213.94,387.75 215.15,387.61 216.36,387.48 217.56,387.35 218.77,387.21 219.98,387.08 221.19,386.94 222.39,386.80 223.60,386.66 224.81,386.52 226.01,386.37 227.22,386.23 228.43,386.08 229.63,385.93 230.84,385.78 232.04,385.63 233.25,385.48 234.45,385.33 235.66,385.17 236.86,385.01 238.07,384.86 239.27,384.70 240.48,384.53 241.68,384.37 242.88,384.21 244.09,384.04 245.29,383.87 246.50,383.70 247.70,383.53 248.90,383.36 250.10,383.18 251.31,383.01 252.51,382.83 253.71,382.65 254.91,382.47 256.11,382.29 257.31,382.10 258.52,381.92 259.72,381.73 260.92,381.54 262.12,381.35 263.32,381.16 264.52,380.96 265.72,380.76 266.92,380.57 268.12,380.37 269.31,380.16 270.51,379.96 271.71,379.76 272.91,379.55 274.11,379.34 275.31,379.13 276.50,378.92 277.70,378.70 278.90,378.48 280.09,378.27 281.29,378.05 282.49,377.82 283.68,377.60 284.88,377.37 286.07,377.15 287.27,376.92 288.46,376.68 289.66,376.45 290.85,376.21 292.05,375.98 293.24,375.74 294.43,375.50 295.63,375.25 296.82,375.01 298.01,374.76 299.21,374.51 300.40,374.26 301.59,374.00 302.78,373.75 303.97,373.49 305.16,373.23 306.36,372.97 307.55,372.71 308.74,372.44 309.93,372.17 311.11,371.90 312.30,371.63 313.49,371.36 314.68,371.09 315.87,370.81 317.06,370.54 318.24,370.26 319.43,369.98 320.62,369.70 321.80,369.41 322.99,369.13 324.17,368.84 325.36,368.56 326.54,368.27 327.73,367.98 328.91,367.69 330.10,367.40 331.28,367.10 332.46,366.81 333.64,366.51 334.82,366.22 336.01,365.92 337.19,365.62 338.37,365.32 339.55,365.02 340.73,364.72 341.90,364.42 343.08,364.12 344.26,363.81 345.44,363.51 346.61,363.20 347.79,362.90 348.97,362.59 350.14,362.28 351.31,361.97 352.49,361.65 353.66,361.34 354.83,361.02 356.01,360.70 357.18,360.38 358.35,360.06 359.52,359.74 360.69,359.41 361.85,359.09 363.02,358.76 364.19,358.43 365.35,358.09 366.52,357.76 367.68,357.42 368.85,357.08 370.01,356.73 371.17,356.39 372.33,356.04 373.49,355.68 374.65,355.33 375.81,354.97 376.97,354.61 378.13,354.25 379.28,353.88 380.44,353.51 381.59,353.14 382.74,352.76 383.89,352.38 385.04,352.00 386.19,351.61 387.34,351.22 388.49,350.83 389.63,350.43 390.78,350.03 391.92,349.62 393.07,349.22 394.21,348.80 395.35,348.39 396.49,347.96 397.63,347.54 398.76,347.11 399.90,346.67 401.03,346.24 402.17,345.79 403.30,345.35 404.43,344.89 405.56,344.44 406.69,343.98 407.81,343.51 408.94,343.04 410.06,342.57 411.18,342.09 412.30,341.61 413.42,341.12 414.54,340.63 415.65,340.14 416.77,339.64 417.88,339.13 418.99,338.62 420.09,338.11 421.20,337.60 422.30,337.07 423.40,336.55 424.50,336.02 425.60,335.49 426.69,334.95 427.79,334.41 428.88,333.86 429.97,333.31 431.05,332.76 432.13,332.20 433.22,331.63 434.29,331.07 435.37,330.50 436.44,329.92 437.52,329.34 438.58,328.76 439.65,328.17 440.71,327.58 441.77,326.98 442.83,326.38 443.88,325.77 444.93,325.16 445.98,324.55 447.02,323.93 448.06,323.30 449.10,322.67 450.13,322.03 451.15,321.38 452.17,320.73 453.19,320.07 454.20,319.40 455.20,318.73 456.20,318.04 457.19,317.35 458.17,316.65 459.15,315.94 460.12,315.23 461.09,314.50 462.04,313.77 462.99,313.02 463.94,312.27 464.87,311.50 465.80,310.73 466.72,309.95 467.63,309.16 468.53,308.36 469.43,307.55 470.32,306.72 471.19,305.89 472.07,305.05 472.93,304.20 473.78,303.34 474.63,302.48 475.46,301.60 476.29,300.71 477.11,299.82 477.92,298.92 478.73,298.00 479.52,297.08 480.31,296.16 481.09,295.22 481.85,294.28 482.62,293.33 483.37,292.37 484.11,291.40 484.85,290.43 485.57,289.45 486.29,288.46 487.00,287.47 487.70,286.47 488.39,285.47 489.07,284.46 489.75,283.44 490.42,282.41 491.07,281.39 491.72,280.35 492.36,279.31 492.99,278.27 493.62,277.22 494.23,276.16 494.84,275.10 495.43,274.04 496.02,272.97 496.60,271.90 497.17,270.82 497.73,269.74 498.29,268.66 498.83,267.57 499.37,266.48 499.90,265.38 500.42,264.28 500.93,263.18 501.43,262.08 501.93,260.97 502.41,259.86 502.89,258.74 503.36,257.62 503.82,256.50 504.28,255.37 504.72,254.25 505.16,253.12 505.59,251.98 506.01,250.85 506.43,249.71 506.83,248.56 507.23,247.42 507.62,246.27 508.00,245.12 508.38,243.97 508.75,242.81 509.11,241.65 509.46,240.49 509.80,239.33 510.14,238.16 510.47,236.99 510.79,235.82 511.11,234.65 511.42,233.48 511.72,232.30 512.01,231.12 512.30,229.94 512.58,228.76 512.85,227.58 513.11,226.39 513.37,225.20 513.62,224.01 513.87,222.82 514.11,221.63 514.34,220.44 514.56,219.24 514.78,218.04 514.99,216.84 515.19,215.64 515.39,214.44 515.58,213.24 515.77,212.04 515.94,210.83 516.11,209.63 516.28,208.42 516.44,207.21 516.59,206.00 516.74,204.79 516.88,203.58 517.01,202.37 517.14,201.16 517.26,199.94 517.38,198.73 517.49,197.52 517.59,196.30 517.69,195.09 517.78,193.87 517.87,192.66 517.95,191.44 518.02,190.22 518.09,189.01 518.15,187.79 518.21,186.57 518.26,185.36 518.31,184.14 518.35,182.92 518.39,181.70 518.42,180.49 518.44,179.27 518.46,178.06 518.47,176.84 518.48,175.62 518.49,174.41 518.49,173.19 518.49,171.98 518.49,170.77 518.49,169.55 518.49,168.34 518.49,167.13 518.49,165.92 518.49,164.71 518.49,163.50" stroke="#117070" stroke-width="2.6"/>
<path d="M35.50,222.00 36.54,222.01 37.58,222.02 38.62,222.03 39.66,222.04 40.70,222.06 41.74,222.07 42.78,222.08 43.82,222.09 44.86,222.11 45.90,222.12 46.94,222.14 47.98,222.15 49.02,222.17 50.06,222.18 51.10,222.20 52.14,222.21 53.18,222.23 54.22,222.25 55.26,222.27 56.30,222.28 57.34,222.30 58.38,222.32 59.42,222.34 60.46,222.36 61.50,222.38 62.54,222.40 63.58,222.42 64.62,222.44 65.66,222.46 66.70,222.49 67.74,222.51 68.78,222.53 69.82,222.56 70.86,222.58 71.90,222.61 72.94,222.63 73.98,222.66 75.02,222.68 76.06,222.71 77.10,222.74 78.14,222.76 79.18,222.79 80.22,222.82 81.26,222.85 82.30,222.88 83.34,222.91 84.38,222.94 85.42,222.97 86.46,223.00 87.50,223.03 88.54,223.06 89.58,223.10 90.62,223.13 91.66,223.16 92.70,223.20 93.74,223.23 94.78,223.27 95.82,223.30 96.86,223.34 97.90,223.37 98.94,223.41 99.98,223.45 101.02,223.49 102.06,223.53 103.10,223.57 104.14,223.61 105.18,223.65 106.22,223.69 107.26,223.73 108.30,223.77 109.33,223.81 110.37,223.86 111.41,223.90 112.45,223.94 113.49,223.99 114.53,224.03 115.57,224.08 116.61,224.13 117.65,224.17 118.69,224.22 119.73,224.27 120.76,224.32 121.80,224.36 122.84,224.41 123.88,224.46 124.92,224.52 125.96,224.57 127.00,224.62 128.04,224.67 129.08,224.72 130.11,224.78 131.15,224.83 132.19,224.89 133.23,224.94 134.27,225.00 135.31,225.06 136.34,225.11 137.38,225.17 138.42,225.23 139.46,225.29 140.50,225.35 141.54,225.41 142.57,225.47 143.61,225.53 144.65,225.59 145.69,225.65 146.72,225.72 147.76,225.78 148.80,225.85 149.84,225.91 150.88,225.98 151.91,226.04 152.95,226.11 153.99,226.18 155.02,226.25 156.06,226.32 157.10,226.38 158.14,226.46 159.17,226.53 160.21,226.60 161.25,226.67 162.28,226.74 163.32,226.82 164.36,226.89 165.39,226.96 166.43,227.04 167.47,227.12 168.50,227.19 169.54,227.27 170.58,227.35 171.61,227.43 172.65,227.51 173.69,227.59 174.72,227.67 175.76,227.75 176.79,227.83 177.83,227.91 178.87,228.00 179.90,228.08 180.94,228.17 181.97,228.25 183.01,228.34 184.04,228.43 185.08,228.51 186.11,228.60 187.15,228.69 188.18,228.78 189.22,228.87 190.25,228.96 191.29,229.06 192.32,229.15 193.36,229.24 194.39,229.34 195.43,229.43 196.46,229.53 197.50,229.62 198.53,229.72 199.56,229.82 200.60,229.92 201.63,230.02 202.67,230.12 203.70,230.22 204.73,230.32 205.77,230.42 206.80,230.52 207.83,230.63 208.87,230.73 209.90,230.84 210.93,230.94 211.97,231.05 213.00,231.16 214.03,231.27 215.06,231.38 216.10,231.49 217.13,231.60 218.16,231.71 219.19,231.82 220.23,231.93 221.26,232.05 222.29,232.16 223.32,232.28 224.35,232.39 225.39,232.51 226.42,232.63 227.45,232.75 228.48,232.87 229.51,232.99 230.54,233.11 231.57,233.23 232.61,233.35 233.64,233.47 234.67,233.60 235.70,233.72 236.73,233.85 237.76,233.98 238.79,234.10 239.82,234.23 240.85,234.36 241.88,234.49 242.91,234.62 243.94,234.75 244.97,234.89 246.00,235.02 247.03,235.15 248.06,235.29 249.09,235.42 250.11,235.56 251.14,235.70 252.17,235.84 253.20,235.98 254.23,236.12 255.26,236.26 256.29,236.40 257.31,236.54 258.34,236.69 259.37,236.83 260.40,236.98 261.43,237.12 262.45,237.27 263.48,237.42 264.51,237.57 265.53,237.71 266.56,237.87 267.59,238.02 268.62,238.17 269.64,238.32 270.67,238.48 271.69,238.63 272.72,238.79 273.75,238.94 274.77,239.10 275.80,239.26 276.82,239.42 277.85,239.58 278.88,239.74 279.90,239.90 280.93,240.07 281.95,240.23 282.98,240.40 284.00,240.56 285.02,240.73 286.05,240.90 287.07,241.07 288.10,241.23 289.12,241.41 290.15,241.58 291.17,241.75 292.19,241.92 293.22,242.10 294.24,242.27 295.26,242.45 296.29,242.63 297.31,242.80 298.33,242.98 299.35,243.16 300.38,243.34 301.40,243.53 302.42,243.71 303.44,243.89 304.46,244.08 305.48,244.26 306.51,244.45 307.53,244.64 308.55,244.83 309.57,245.02 310.59,245.21 311.61,245.40 312.63,245.59 313.65,245.79 314.67,245.98 315.69,246.18 316.71,246.37 317.73,246.57 318.75,246.77 319.77,246.97 320.79,247.17 321.81,247.37 322.83,247.57 323.85,247.78 324.86,247.98 325.88,248.19 326.90,248.39 327.92,248.60 328.94,248.81 329.95,249.02 330.97,249.23 331.99,249.44 333.01,249.66 334.02,249.87 335.04,250.09 336.06,250.30 337.07,250.52 338.09,250.74 339.11,250.96 340.12,251.18 341.14,251.40 342.15,251.62 343.17,251.84 344.18,252.07 345.20,252.29 346.21,252.52 347.23,252.75 348.24,252.98 349.26,253.20 350.27,253.44 351.28,253.67 352.30,253.90 353.31,254.13 354.33,254.37 355.34,254.61 356.35,254.84 357.36,255.08 358.38,255.32 359.39,255.56 360.40,255.80 361.41,256.05 362.43,256.29 363.44,256.53 364.45,256.78 365.46,257.03 366.47,257.28 367.48,257.53 368.49,257.78 369.50,258.03 370.51,258.28 371.52,258.53 372.53,258.79 373.54,259.05 374.55,259.30 375.56,259.56 376.57,259.82 377.58,260.08 378.59,260.34 379.60,260.61 380.61,260.87 381.61,261.13 382.62,261.40 383.63,261.67 384.64,261.94 385.64,262.21 386.65,262.48 387.66,262.75 388.66,263.02 389.67,263.30 390.68,263.57 391.68,263.85 392.69,264.13 393.69,264.41 394.70,264.69 395.71,264.97 396.71,265.25 397.71,265.53 398.72,265.82 399.72,266.11 400.73,266.39 401.73,266.68 402.74,266.97 403.74,267.26 404.74,267.55 405.74,267.85 406.75,268.14 407.75,268.44 408.75,268.73 409.75,269.03 410.76,269.33 411.76,269.63 412.76,269.93 413.76,270.24 414.76,270.54 415.76,270.85 416.76,271.15 417.76,271.46 418.76,271.77 419.76,272.08 420.76,272.39 421.76,272.71 422.76,273.02 423.76,273.34 424.75,273.66 425.75,273.98 426.74,274.31 427.74,274.63 428.73,274.96 429.72,275.29 430.71,275.62 431.70,275.96 432.69,276.29 433.68,276.63 434.67,276.98 435.65,277.32 436.64,277.67 437.62,278.02 438.60,278.37 439.58,278.73 440.56,279.09 441.54,279.45 442.51,279.82 443.49,280.19 444.46,280.56 445.43,280.94 446.40,281.32 447.36,281.70 448.33,282.09 449.29,282.48 450.25,282.88 451.21,283.28 452.17,283.68 453.12,284.09 454.07,284.50 455.02,284.92 455.97,285.34 456.91,285.76 457.85,286.19 458.79,286.62 459.73,287.06 460.66,287.51 461.60,287.95 462.52,288.41 463.45,288.86 464.37,289.33 465.29,289.79 466.21,290.27 467.13,290.75 468.04,291.23 468.94,291.72 469.85,292.21 470.75,292.71 471.65,293.22 472.55,293.73 473.44,294.25 474.33,294.77 475.21,295.30 476.09,295.84 476.97,296.38 477.84,296.92 478.71,297.48 479.58,298.04 480.44,298.60 481.30,299.18 482.16,299.76 483.01,300.34 483.85,300.94 484.69,301.54 485.53,302.14 486.36,302.75 487.19,303.37 488.01,304.00 488.82,304.63 489.63,305.27 490.44,305.92 491.23,306.58 492.02,307.24 492.81,307.91 493.58,308.58 494.35,309.27 495.12,309.96 495.87,310.66 496.62,311.36 497.36,312.07 498.09,312.79 498.82,313.52 499.54,314.26 500.24,315.00 500.94,315.75 501.63,316.51 502.31,317.28 502.99,318.05 503.65,318.84 504.30,319.63 504.95,320.43 505.58,321.23 506.20,322.05 506.81,322.87 507.42,323.70 508.01,324.54 508.59,325.39 509.16,326.24 509.72,327.11 510.26,327.98 510.80,328.86 511.32,329.75 511.83,330.65 512.33,331.56 512.82,332.48 513.29,333.40 513.76,334.34 514.20,335.28 514.64,336.23 515.06,337.19 515.47,338.16 515.86,339.14 516.24,340.13 516.61,341.12 516.96,342.13 517.30,343.15 517.62,344.17 517.93,345.20 518.22,346.25 518.50,347.30" stroke="#e08430" stroke-width="1.8"/>
</g>
<g stroke="#000" stroke-width="1.1" fill="none">
<path d="M497.6,46.5V397.5" stroke="#222" stroke-width="1.2"/><path d="M35.5,222H518.5" stroke-width="1.8"/>
</g>
<rect x="40.6" y="51.7" width="72.8" height="186.6" fill="#fff" stroke="#000" stroke-width="1.5"/>
<g fill="none">
<path d="M46.8,68H78.7" stroke="#d80012" stroke-width="2.6"/>
<path d="M46.8,97.8H78.7" stroke="#0000c8" stroke-width="2.6"/>
<path d="M46.8,126.8H78.7" stroke="#000" stroke-width="2.6"/>
<path d="M46.8,161.3H78.7" stroke="#20e020" stroke-width="2.6"/>
<path d="M46.8,193.8H78.7" stroke="#117070" stroke-width="2.6"/>
<path d="M46.8,222.5H78.7" stroke="#e08430" stroke-width="1.8"/>
</g>
<text x="82" y="76.5">Vx</text>
<text x="82" y="106">Vy</text>
<text x="82" y="135.6">Vz</text>
<text x="82" y="163.9">V</text><text class="sub" transform="translate(97.2,172.74) scale(1,0.765)">||</text>
<text class="g" x="81.5" y="201.5">Φ</text>
<text x="81" y="230.6">n</text>
<text class="ann" x="157.3" y="140.2">(Vx,Vy,Vz)@SE=(1.04,1.00,0.32)Cs</text>
<text x="35.8" y="423.3" text-anchor="middle">0</text>
<text x="113.3" y="423.3" text-anchor="middle">0.05</text>
<text x="190.8" y="423.3" text-anchor="middle">0.1</text>
<text x="268.3" y="423.3" text-anchor="middle">0.15</text>
<text x="345.8" y="423.3" text-anchor="middle">0.2</text>
<text x="423.3" y="423.3" text-anchor="middle">0.25</text>
<text x="500.8" y="423.3" text-anchor="middle">0.3</text>
<text x="32.3" y="406.6" text-anchor="end">0</text>
<text x="32.3" y="318.9" text-anchor="end">0.5</text>
<text x="32.3" y="231.1" text-anchor="end">1</text>
<text x="32.3" y="143.3" text-anchor="end">1.5</text>
<text x="32.3" y="55.6" text-anchor="end">2</text>
<text x="234" y="445.6">Y [</text><text class="gs" x="271" y="445.6">λ</text><text class="sub" x="283.5" y="457.3">mfp</text><text x="314" y="445.6">]</text>
<text class="g" transform="translate(120.2,18.2) scale(1.0,0.86)">ω</text><text class="sub" x="136.9" y="28.3">ci</text>
<text class="g" transform="translate(155,17.3) scale(1.1,0.8)">τ</text><text class="sub" x="167" y="28.3">i</text>
<text x="177" y="19">=</text><text x="198.5" y="17.2">100,</text>
<text class="g" transform="translate(250.4,17.8) scale(1.08,0.9)">ψ</text>
<text x="273.5" y="19">=</text><text x="294.8" y="17.2">60 deg,</text>
<text class="g" x="379.7" y="17.2">Δ</text>
<text x="401.6" y="19">=</text><text x="422.6" y="17.2">1</text>
</svg>
</body></html>
